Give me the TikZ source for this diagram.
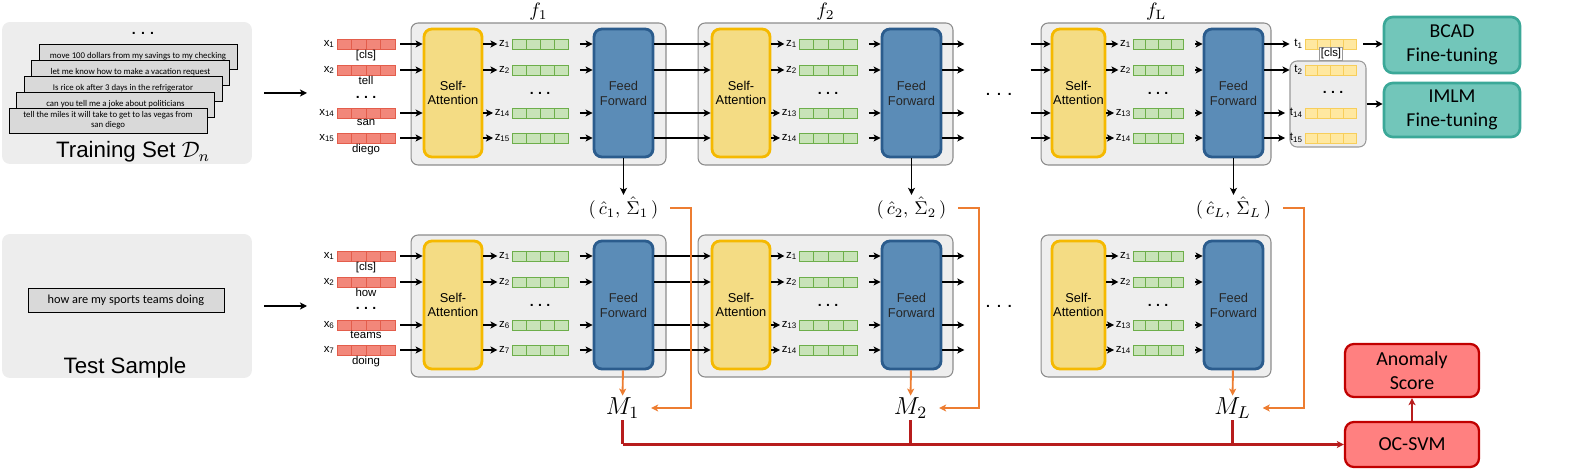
\RequirePackage{fix-cm}
\documentclass[tikz,border=0pt]{standalone}
\usepackage{amsmath, amssymb}
\usepackage[no-math]{fontspec}
\usepackage{xcolor}
\usepackage{tikz}
\usetikzlibrary{arrows.meta, calc, positioning}
\newfontfamily\sansf{Liberation Sans}
\newfontfamily\calf{Carlito}

\definecolor{colPann}{HTML}{EDEDED}
\definecolor{colFrase}{HTML}{D9D9D9}
\definecolor{colBlocco}{HTML}{EEEEEE}
\definecolor{colBloccoBd}{HTML}{8C8C8C}
\definecolor{colSa}{HTML}{F4DC84}
\definecolor{colSaBd}{HTML}{F5B900}
\definecolor{colFf}{HTML}{5B8CB7}
\definecolor{colFfBd}{HTML}{2B5C8D}
\definecolor{colTok}{HTML}{F2877A}
\definecolor{colTokBd}{HTML}{E35D4B}
\definecolor{colZ}{HTML}{C8E3B8}
\definecolor{colZBd}{HTML}{6DAE4A}
\definecolor{colT}{HTML}{FFE8A0}
\definecolor{colTBd}{HTML}{F7CE5B}
\definecolor{colTeal}{HTML}{72C6BA}
\definecolor{colTealBd}{HTML}{3BA898}
\definecolor{colRosso}{HTML}{FF8080}
\definecolor{colRossoBd}{HTML}{C00000}
\definecolor{colArancio}{HTML}{ED7D31}
\definecolor{colRossoLn}{HTML}{B71C1C}

% celle interne di un vettore
\newcommand{\celle}[2]{%
  \foreach \ci in {1,2,3}
    \draw[#2, line width=0.5pt] ($(#1.south west)!\ci/4!(#1.south east)$) -- ($(#1.north west)!\ci/4!(#1.north east)$);}
\newcommand{\puntini}[1]{.\hspace{#1}.\hspace{#1}.}

\begin{document}
\begin{tikzpicture}[x=0.02cm, y=-0.02cm, >={Stealth[length=4pt,width=4pt,inset=1pt]}]

% Stili
\tikzset{
  pann/.style={fill=colPann, rounded corners=4.5pt, minimum width=5cm, minimum height=2.84cm, inner sep=0pt},
  frase/.style={draw=black, fill=colFrase, line width=0.5pt, minimum width=3.96cm, minimum height=0.5cm, inner sep=0pt, align=center, font=\calf\fontsize{5}{5.8}\selectfont},
  titolo/.style={font=\sansf\fontsize{12.7}{14}\selectfont, inner sep=0pt},
  blocco/.style={draw=colBloccoBd, fill=colBlocco, line width=0.6pt, rounded corners=4pt, minimum height=2.84cm, inner sep=0pt},
  selfatt/.style={draw=colSaBd, fill=colSa, line width=1.6pt, rounded corners=4.5pt, minimum height=2.56cm, inner sep=0.5pt, align=center, font=\sansf\fontsize{7.3}{8.2}\selectfont},
  feedfw/.style={draw=colFfBd, fill=colFf, line width=1.6pt, rounded corners=4.5pt, minimum width=1.18cm, minimum height=2.56cm, inner sep=0.5pt, align=center, text=black!85, font=\sansf\fontsize{7.3}{8.5}\selectfont},
  vett/.style={line width=0.5pt, minimum height=0.2cm, inner sep=0pt},
  tok/.style={vett, draw=colTokBd, fill=colTok, minimum width=1.16cm},
  zvec/.style={vett, draw=colZBd, fill=colZ},
  tvec/.style={vett, draw=colTBd, fill=colT, minimum width=1.02cm},
  etich/.style={font=\sansf\fontsize{6.5}{7}\selectfont, inner sep=0.8pt},
  puntini/.style={font=\sansf\bfseries\fontsize{8}{8}\selectfont, inner sep=0pt},
  freccia/.style={->, line width=0.85pt},
  flab/.style={font=\fontsize{11}{12}\selectfont, inner sep=0.5pt},
  stat/.style={font=\fontsize{10.5}{12}\selectfont, inner sep=1pt},
  emme/.style={font=\fontsize{14}{15}\selectfont, inner sep=1pt},
  arancio/.style={->, draw=colArancio, line width=1.1pt},
  rossa/.style={draw=colRossoLn, line width=1.3pt},
  tbox/.style={draw=gray!80, fill=colPann, line width=0.6pt, rounded corners=4pt, minimum width=1.52cm, minimum height=1.72cm},
  clsbox/.style={etich, draw=gray!80, fill=white, line width=0.4pt, inner sep=0.6pt},
  tealbox/.style={draw=colTealBd, fill=colTeal, line width=1.5pt, rounded corners=5pt, minimum width=2.72cm, minimum height=1.12cm, align=center, font=\calf\fontsize{11.2}{13.5}\selectfont},
  rossobox/.style={draw=colRossoBd, fill=colRosso, line width=1.3pt, rounded corners=5pt, minimum width=2.68cm, minimum height=1.06cm, align=center, font=\calf\fontsize{11.3}{14}\selectfont},
}

\useasboundingbox (0,0) rectangle (1578,472);

% --- Pannelli di ingresso ---
\node[pann] (train) at (127,93) {};
\node[pann, minimum height=2.88cm] (test) at (127,306) {};
\node[puntini] (dtrain) at (143,33) {\puntini{3pt}};
\foreach \t [count=\i from 0] in {move 100 dollars from my savings to my checking,%
  let me know how to make a vacation request,%
  Is rice ok after 3 days in the refrigerator,%
  can you tell me a joke about politicians,%
  {tell the miles it will take to get to las vegas from\\san diego}}
  \node[frase] (fr\i) at (138-7.5*\i,56.5+16*\i) {\t};
\node[frase, minimum width=3.92cm, minimum height=0.48cm, font=\calf\fontsize{7}{8}\selectfont] (frtest) at (126,300) {how are my sports teams doing};
\node[titolo] (ttrain) at (133,152) {Training Set $\mathcal{D}_n$};
\node[titolo] (ttest) at (125,368) {Test Sample};

\coordinate (ina) at (307,93);
\coordinate (inb) at (307,306);
\draw[freccia, shorten <=0.24cm] (train.east) -- (ina);
\draw[freccia, shorten <=0.24cm] (test.east) -- (inb);

% --- Blocchi f_1, f_2, f_L: riga a (addestramento), riga b (test) ---
\foreach \s/\dy/\n/\bx/\bw/\sx/\sw/\zx/\zw/\fx/\zl in {%
  a/0/1/538.5/5.1/453/1.16/512/1.12/623.5/{1,2,14,15},%
  a/0/2/825.5/5.1/741/1.16/799/1.16/911.5/{1,2,13,14},%
  a/0/L/1156/4.6/1078.5/1.06/1133/1.0/1233.5/{1,2,13,14},%
  b/212/1/538.5/5.1/453/1.16/512/1.12/623.5/{1,2,6,7},%
  b/212/2/825.5/5.1/741/1.16/799/1.16/911.5/{1,2,13,14},%
  b/212/L/1156/4.6/1078.5/1.06/1133/1.0/1233.5/{1,2,13,14}}{
  \node[blocco, minimum width=\bw cm] (bl\s\n) at (\bx,94+\dy) {};
  \node[selfatt, minimum width=\sw cm] (sa\s\n) at (\sx,93+\dy) {Self-\\Attention};
  \node[feedfw] (ff\s\n) at (\fx,93+\dy) {Feed\\Forward};
  \node[puntini] (dz\s\n) at (\zx+\zw*25,93+\dy) {\puntini{2.5pt}};
  \foreach \z [count=\r] in \zl {
    \pgfmathsetmacro\yy{{44,70,113,138}[\r-1]+\dy}
    \node[zvec, minimum width=\zw cm, anchor=west] (z\s\n\r) at (\zx,\yy) {};
    \celle{z\s\n\r}{colZBd}
    \node[etich, anchor=east] (zl\s\n\r) at (z\s\n\r.west) {z\textsubscript{\z}};
    \draw[freccia] (sa\s\n.east |- zl\s\n\r) -- (zl\s\n\r.west);
    \draw[freccia, shorten <=0.22cm] (z\s\n\r.east) -- (ff\s\n.west |- z\s\n\r);
  }
}
\node[flab, above=0.5pt of bla1] (f1) {$f_1$};
\node[flab, above=0.5pt of bla2] (f2) {$f_2$};
\node[flab, above=0.5pt of blaL] (fL) {$f_{\mathrm{L}}$};

% Collegamenti tra i blocchi
\foreach \s/\dy in {a/0,b/212}
  \foreach \yr in {44,70,113,138}{
    \draw[freccia] (ff\s1.east |- 0,\yr+\dy) -- (sa\s2.west |- 0,\yr+\dy);
    \draw[freccia] (ff\s2.east |- 0,\yr+\dy) -- ++(22,0);
  }
\foreach \yr in {44,70,113,138}
  \draw[freccia] (saaL.west |- 0,\yr) ++(-20,0) -- ++(20,0);
\node[puntini] (dsup) at (999,94) {\puntini{4pt}};
\node[puntini] (dinf) at (999,306) {\puntini{4pt}};

% --- Token di ingresso ---
\foreach \s/\yy/\xi/\w in {a/44/1/[cls],a/70/2/tell,a/113/14/san,a/138/15/diego,%
  b/256/1/[cls],b/282/2/how,b/325/6/teams,b/350/7/doing}{
  \node[tok] (x\s\xi) at (366,\yy) {};
  \celle{x\s\xi}{colTokBd}
  \node[etich, anchor=east] (xl\s\xi) at (x\s\xi.west) {x\textsubscript{\xi}};
  \node[etich, anchor=north, inner sep=0.2pt] (w\s\xi) at (x\s\xi.south) {\w};
  \draw[freccia, shorten <=0.1cm] (x\s\xi.east) -- (sa\s1.west |- x\s\xi);
}
\node[puntini] (dxa) at (366,97) {\puntini{2.5pt}};
\node[puntini] (dxb) at (366,308) {\puntini{2.5pt}};

% --- Uscite dell'ultimo blocco ---
\node[tbox] (tbox) at (1328,104) {};
\node[puntini] (dt) at (1333,92) {\puntini{2.5pt}};
\foreach \yy/\ti in {44/1,70/2,113/14,138/15}{
  \node[tvec] (t\ti) at (1330.5,\yy) {};
  \celle{t\ti}{colTBd}
  \node[etich, anchor=east] (tl\ti) at (t\ti.west) {t\textsubscript{\ti}};
  \draw[freccia, shorten >=0.06cm] (ffaL.east |- tl\ti) -- (tl\ti.west);
}
\node[clsbox] (cls) at (1331,54) {[cls]};

\node[tealbox] (bcad) at (1452,45) {BCAD\\Fine-tuning};
\node[tealbox, minimum height=1.08cm] (imlm) at (1452,110) {IMLM\\Fine-tuning};
\draw[freccia, shorten <=0.14cm] (t1.east) -- (t1.east -| bcad.west);
\draw[freccia] (tbox.east) -- (tbox.east -| imlm.west);

% --- Punteggio di anomalia ---
\node[rossobox, minimum height=0.9cm] (oc) at (1412,444.5) {OC-SVM};
\node[rossobox] (anom) at (1412,370.5) {Anomaly\\Score};
\draw[rossa, ->] (oc) -- (anom);

% Statistiche e distanze M
\foreach \n/\fx in {1/623.5, 2/911.5, L/1233.5}{
  \node[stat] (st\n) at (\fx,208) {$(\,\hat{c}_{\n},\,\hat{\Sigma}_{\n}\,)$};
  \node[emme] (m\n) at (\fx-1,408) {$M_\n$};
  \draw[freccia] (ffa\n) -- (st\n);
  \draw[arancio] (ffb\n) -- (m\n);
  \draw[arancio, shorten >=0.2cm] ([xshift=0.2cm]st\n.east) -- ++(21,0) |- (m\n.east);
  \draw[rossa] (m\n.south) -- (m\n.south |- oc.west);
}
\draw[rossa, ->] (m1.south |- oc.west) -- (oc.west);

\end{tikzpicture}
\end{document}
